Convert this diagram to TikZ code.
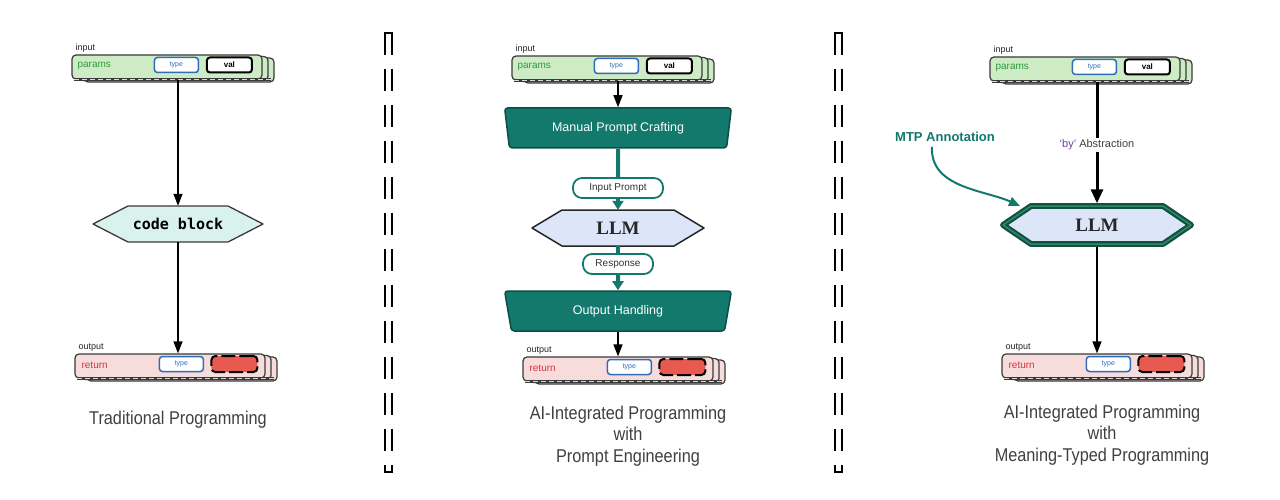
\documentclass[tikz,border=0pt]{standalone}
\usepackage{fontspec}
\setmainfont{Liberation Sans}
\newfontfamily\monof{DejaVu Sans Mono}
\newfontfamily\serf{Liberation Serif}
\newfontfamily\capf[FakeStretch=0.88]{Liberation Sans}
\usetikzlibrary{arrows.meta,shapes.geometric,calc}
\definecolor{ingreen}{HTML}{CDEBC4}
\definecolor{intext}{HTML}{2E9B3E}
\definecolor{outpink}{HTML}{F7DCDC}
\definecolor{outtext}{HTML}{D93440}
\definecolor{typeblue}{HTML}{2F6DB8}
\definecolor{redblk}{HTML}{E85A4F}
\definecolor{cbfill}{HTML}{D9F2EE}
\definecolor{llmfill}{HTML}{DCE6F8}
\definecolor{teal1}{HTML}{13796C}
\definecolor{tealdark}{HTML}{0B4E46}
\definecolor{hexgreen}{HTML}{12503F}
\definecolor{hexmid}{HTML}{2E8A6A}
\definecolor{bypurple}{HTML}{6B3FA0}
\definecolor{boxline}{HTML}{3A3A3A}
\tikzset{
 iobase/.style={draw=boxline, line width=1.2pt, rounded corners=4pt, minimum width=190pt, minimum height=24pt, inner sep=0pt},
 toplab/.style={font=\fontsize{9}{10}\selectfont, text=black!85, inner sep=0pt},
 lefttxt/.style={font=\fontsize{10}{11}\selectfont, inner sep=0pt, anchor=west},
 typebox/.style={draw=typeblue, line width=1.5pt, fill=white, rounded corners=3pt, minimum width=44pt, minimum height=15pt, inner sep=0pt, font=\fontsize{7}{8}\selectfont, text=typeblue},
 valbox/.style={draw=black, line width=2pt, fill=white, rounded corners=3pt, minimum width=45pt, minimum height=15pt, inner sep=0pt, font=\bfseries\fontsize{8}{9}\selectfont},
 redbox/.style={draw=black, line width=2pt, dash pattern=on 14pt off 4pt, fill=redblk, rounded corners=4pt, minimum width=46pt, minimum height=16pt, inner sep=0pt},
 botdark/.style={line width=3pt, draw=boxline},
 botdash/.style={line width=1.2pt, draw=white!85!black, dash pattern=on 5pt off 3pt},
 arr/.style={line width=1.3pt, draw=black, -{Triangle[length=12pt,width=9pt]}},
 thickarr/.style={line width=3pt, draw=black, -{Triangle[length=14pt,width=12pt]}},
 plainarr/.style={line width=1.3pt, draw=black, -{Triangle[length=12pt,width=9pt]}},
 tealconn/.style={line width=4pt, draw=teal1},
 tealarr/.style={line width=4pt, draw=teal1, -{Triangle[length=9pt,width=11pt]}},
 hexcb/.style={draw=boxline, line width=1.3pt, fill=cbfill, line join=round},
 hexllm/.style={draw=black!85, line width=1.5pt, fill=llmfill, line join=round},
 hexllmb/.style={draw=hexgreen, line width=2.2pt, double=hexmid, double distance=1.5pt, fill=llmfill, line join=round},
 hexnode/.style={inner sep=0pt, draw=none},
 trap/.style={trapezium, shape border rotate=180, trapezium stretches=true, trapezium angle=76, minimum width=227pt, minimum height=40pt, fill=teal1, draw=tealdark, line width=1.5pt, rounded corners=3pt, text=white, font=\fontsize{12.5}{14}\selectfont, inner sep=0pt},
 pill/.style={draw=teal1, line width=1.8pt, fill=white, rounded corners=9pt, minimum height=20pt, inner sep=0pt, font=\fontsize{10}{11}\selectfont, text=black!80},
 caption/.style={font=\capf\fontsize{18.5}{21.5}\selectfont, align=center, text=black!75, inner sep=0pt},
 divider/.style={line width=2.3pt, draw=black, dash pattern=on 22pt off 14pt},
 dividercap/.style={line width=2.3pt, draw=black},
 bylab/.style={fill=white, inner sep=2pt, font=\fontsize{11}{12}\selectfont, text=black!75},
 mtplab/.style={inner sep=0pt, font=\bfseries\fontsize{13}{14}\selectfont, text=teal1},
}
\newcommand\inbox[3]{%
 \node[iobase, fill=ingreen] at (#2+12,#3+3) {};
 \node[iobase, fill=ingreen] at (#2+6,#3+1.5) {};
 \node[iobase, fill=ingreen] (#1) at (#2,#3) {};
 \draw[botdark] ($(#1.south west)+(3,0)$) -- ($(#1.south east)+(8,0)$);
 \draw[botdash] ($(#1.south west)+(3,0)$) -- ($(#1.south east)+(8,0)$);
 \node[lefttxt, text=intext] (#1-p) at ($(#1.west)+(6,-1)$) {params};
 \node[typebox] (#1-t) at ($(#1.west)+(105,-2)$) {type};
 \node[valbox] (#1-v) at ($(#1.west)+(158,-2)$) {val};
 \node[toplab, anchor=south west] (#1-l) at ($(#1.north west)+(4,-2)$) {input};
}
\newcommand\outbox[3]{%
 \node[iobase, fill=outpink] at (#2+12,#3+3) {};
 \node[iobase, fill=outpink] at (#2+6,#3+1.5) {};
 \node[iobase, fill=outpink] (#1) at (#2,#3) {};
 \draw[botdark] ($(#1.south west)+(3,0)$) -- ($(#1.south east)+(8,0)$);
 \draw[botdash] ($(#1.south west)+(3,0)$) -- ($(#1.south east)+(8,0)$);
 \node[lefttxt, text=outtext] (#1-p) at ($(#1.west)+(7,-1)$) {return};
 \node[typebox] (#1-t) at ($(#1.west)+(107,-2)$) {type};
 \node[redbox] (#1-r) at ($(#1.west)+(160,-2)$) {};
 \node[toplab, anchor=south west] (#1-l) at ($(#1.north west)+(4,-2)$) {output};
}
\newcommand\hexshape[6]{\draw[#1] (#2-#4,#3) -- (#2-#4+#6,#3-#5) -- (#2+#4-#6,#3-#5) -- (#2+#4,#3) -- (#2+#4-#6,#3+#5) -- (#2-#4+#6,#3+#5) -- cycle;}
\newcommand\divline[1]{%
 \draw[divider] (#1,33) -- (#1,472);
 \draw[divider] (#1+7,33) -- (#1+7,472);
 \draw[dividercap] (#1-1.1,33) -- (#1+8.1,33);
 \draw[dividercap] (#1-1.1,472) -- (#1+8.1,472);
}
\begin{document}
\begin{tikzpicture}[x=1pt,y=-1pt]
\useasboundingbox[fill=white] (0,0) rectangle (1280,500);
% dividers
\divline{385}
\divline{835}
% ---------- panel 1
\inbox{in1}{167}{67}
\hexshape{hexcb}{178}{224}{85}{18}{35}
\node[hexnode, minimum width=170pt, minimum height=36pt, font=\monof\bfseries\fontsize{15}{16}\selectfont] (cb) at (178,224) {code block};
\outbox{out1}{170}{366}
\draw[arr] (cb.north |- in1.south) -- (cb.north);
\draw[arr] (cb.south) -- (cb.south |- out1.north);
\node[caption] (cap1) at (178,420) {Traditional Programming};
% ---------- panel 2
\inbox{in2}{607}{68}
\node[trap] (mpc) at (618,128) {Manual Prompt Crafting};
\node[pill, minimum width=90pt] (ip) at (618,188) {Input Prompt};
\hexshape{hexllm}{618}{228}{86}{18}{30}
\node[hexnode, minimum width=172pt, minimum height=36pt, font=\serf\bfseries\fontsize{19}{20}\selectfont, text=black!85] (llm2) at (618,228) {LLM};
\node[pill, minimum width=70pt] (resp) at (618,264) {Response};
\node[trap] (oh) at (618,311) {Output Handling};
\outbox{out2}{618}{369}
\draw[arr] (mpc.north |- in2.south) -- (mpc.north);
\draw[tealconn] (mpc.south) -- (ip.north);
\draw[tealarr] (ip.south) -- (llm2.north);
\draw[tealconn] (llm2.south) -- (resp.north);
\draw[tealarr] (resp.south) -- (oh.north);
\draw[arr] (oh.south) -- (oh.south |- out2.north);
\node[caption] (cap2) at (628,436) {AI-Integrated Programming\\with\\Prompt Engineering};
% ---------- panel 3
\inbox{in3}{1085}{69}
\hexshape{hexllmb}{1097}{225}{94}{19}{28}
\node[hexnode, minimum width=188pt, minimum height=43pt, font=\serf\bfseries\fontsize{19}{20}\selectfont, text=black!85] (llm3) at (1097,225) {LLM};
\outbox{out3}{1097}{366}
\draw[thickarr] (llm3.north |- in3.south) -- node[bylab, pos=0.52] (by) {\textcolor{bypurple}{`by'} Abstraction} (llm3.north);
\draw[plainarr] (llm3.south) -- (llm3.south |- out3.north);
\node[mtplab] (mtp) at (945,137) {MTP Annotation};
\coordinate (llm3tl) at (1020,206);
\draw[teal1, line width=2pt, -{Triangle[length=11pt,width=9pt]}] ($(mtp.south west)+(37,5)$) .. controls (930,188) and (985,190) .. (llm3tl);
\node[caption] (cap3) at (1102,435) {AI-Integrated Programming\\with\\Meaning-Typed Programming};
\end{tikzpicture}
\end{document}
